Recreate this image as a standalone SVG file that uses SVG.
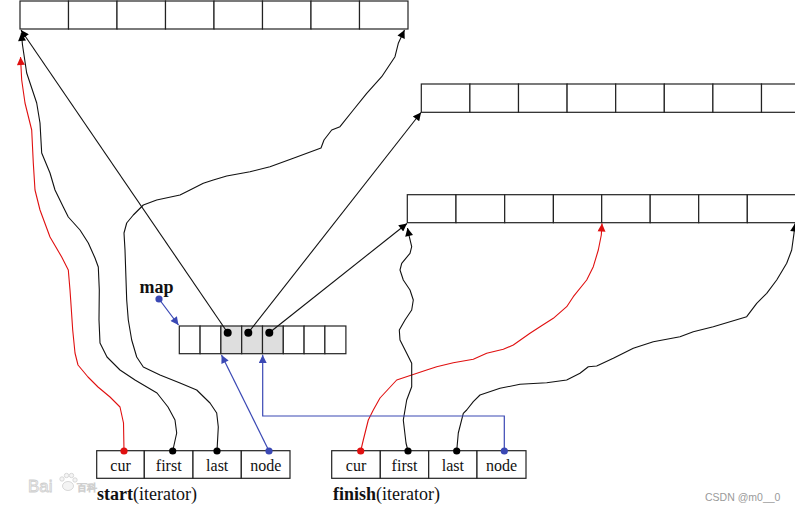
<svg xmlns="http://www.w3.org/2000/svg" width="795" height="512" viewBox="0 0 795 512">
<defs>
<style>
.cell{fill:#fff;stroke:#222;stroke-width:1.2}
.gcell{fill:#dedede;stroke:#222;stroke-width:1.2}
.lbl{font-family:"Liberation Serif","Times New Roman",serif;font-size:16px;fill:#111}
.ttl{font-family:"Liberation Serif","Times New Roman",serif;font-size:18px;fill:#111}
.blk{fill:none;stroke:#111;stroke-width:1.1;stroke-linejoin:round}
.red{fill:none;stroke:#e01010;stroke-width:1.1;stroke-linejoin:round}
.blu{fill:none;stroke:#3a48b4;stroke-width:1.2}
.wm{font-family:"Liberation Sans",Arial,sans-serif;fill:#f4f4f4;stroke:#cfcfcf;stroke-width:0.8}
</style>
<marker id="ak" viewBox="0 0 10 10" refX="10" refY="5" markerWidth="10" markerHeight="8" orient="auto" markerUnits="userSpaceOnUse"><path d="M0,0 L10,5 L0,10 z" fill="#000"/></marker>
<marker id="ar" viewBox="0 0 10 10" refX="10" refY="5" markerWidth="10" markerHeight="8" orient="auto" markerUnits="userSpaceOnUse"><path d="M0,0 L10,5 L0,10 z" fill="#e01010"/></marker>
<marker id="ab" viewBox="0 0 10 10" refX="10" refY="5" markerWidth="10" markerHeight="8" orient="auto" markerUnits="userSpaceOnUse"><path d="M0,0 L10,5 L0,10 z" fill="#3a48b4"/></marker>
</defs>
<rect width="795" height="512" fill="#fff"/>

<g id="buf1">
<rect class="cell" x="20" y="1" width="48.5" height="28"/>
<rect class="cell" x="68.5" y="1" width="48.5" height="28"/>
<rect class="cell" x="117" y="1" width="48.5" height="28"/>
<rect class="cell" x="165.5" y="1" width="48.5" height="28"/>
<rect class="cell" x="214" y="1" width="48.5" height="28"/>
<rect class="cell" x="262.5" y="1" width="48.5" height="28"/>
<rect class="cell" x="311" y="1" width="48.5" height="28"/>
<rect class="cell" x="359.5" y="1" width="48.5" height="28"/>
</g>

<g id="buf2">
<rect class="cell" x="421.3" y="84" width="48.6" height="28.3"/>
<rect class="cell" x="469.9" y="84" width="48.6" height="28.3"/>
<rect class="cell" x="518.5" y="84" width="48.6" height="28.3"/>
<rect class="cell" x="567.1" y="84" width="48.6" height="28.3"/>
<rect class="cell" x="615.7" y="84" width="48.6" height="28.3"/>
<rect class="cell" x="664.3" y="84" width="48.6" height="28.3"/>
<rect class="cell" x="712.9" y="84" width="48.6" height="28.3"/>
<rect class="cell" x="761.5" y="84" width="48.6" height="28.3"/>
</g>

<g id="buf3">
<rect class="cell" x="407.3" y="194.7" width="48.7" height="28"/>
<rect class="cell" x="456" y="194.7" width="48.7" height="28"/>
<rect class="cell" x="504.7" y="194.7" width="48.7" height="28"/>
<rect class="cell" x="553.4" y="194.7" width="48.3" height="28"/>
<rect class="cell" x="601.7" y="194.7" width="48.5" height="28"/>
<rect class="cell" x="650.2" y="194.7" width="48.5" height="28"/>
<rect class="cell" x="698.7" y="194.7" width="48.6" height="28"/>
<rect class="cell" x="747.3" y="194.7" width="49" height="28"/>
</g>

<g id="map">
<text x="139.5" y="293" class="ttl" font-weight="bold">map</text>
<rect class="cell" x="179.3" y="326" width="20.8" height="27.7"/>
<rect class="cell" x="200.1" y="326" width="20.8" height="27.7"/>
<rect class="gcell" x="220.9" y="326" width="20.8" height="27.7"/>
<rect class="gcell" x="241.7" y="326" width="20.8" height="27.7"/>
<rect class="gcell" x="262.5" y="326" width="20.8" height="27.7"/>
<rect class="cell" x="283.3" y="326" width="20.8" height="27.7"/>
<rect class="cell" x="304.1" y="326" width="20.8" height="27.7"/>
<rect class="cell" x="324.9" y="326" width="21" height="27.7"/>
</g>

<g id="start">
<rect class="cell" x="96.7" y="450.7" width="47.6" height="27.6"/>
<rect class="cell" x="144.3" y="450.7" width="48.7" height="27.6"/>
<rect class="cell" x="193" y="450.7" width="48.3" height="27.6"/>
<rect class="cell" x="241.3" y="450.7" width="48.7" height="27.6"/>
<text class="lbl" x="120.5" y="470.5" text-anchor="middle">cur</text>
<text class="lbl" x="168.7" y="470.5" text-anchor="middle">first</text>
<text class="lbl" x="217.2" y="470.5" text-anchor="middle">last</text>
<text class="lbl" x="265.7" y="470.5" text-anchor="middle">node</text>
<text class="ttl" x="97" y="499.5"><tspan font-weight="bold">start</tspan>(iterator)</text>
</g>

<g id="finish">
<rect class="cell" x="331.7" y="450.7" width="48.6" height="27.6"/>
<rect class="cell" x="380.3" y="450.7" width="48.4" height="27.6"/>
<rect class="cell" x="428.7" y="450.7" width="48.3" height="27.6"/>
<rect class="cell" x="477" y="450.7" width="49" height="27.6"/>
<text class="lbl" x="356" y="470.5" text-anchor="middle">cur</text>
<text class="lbl" x="404.5" y="470.5" text-anchor="middle">first</text>
<text class="lbl" x="452.9" y="470.5" text-anchor="middle">last</text>
<text class="lbl" x="501.5" y="470.5" text-anchor="middle">node</text>
<text class="ttl" x="333" y="499.5"><tspan font-weight="bold">finish</tspan>(iterator)</text>
</g>

<g id="connectors">
<path class="blu" d="M159,299 L178.5,325" marker-end="url(#ab)"/>
<path class="blk" d="M227.7,332.7 L21,30" marker-end="url(#ak)"/>
<path class="blk" d="M248.3,332.7 L421,112.5" marker-end="url(#ak)"/>
<path class="blk" d="M269.3,332.7 L407,223.5" marker-end="url(#ak)"/>
<path class="red" d="M124,451 L123.5,423 L120,407 L110,397 L98,387 L88,377 L78,365 L75,353 L72.7,330 L70.7,300 L70,290 L68.3,270 L61.7,257 L50,237 L40,210 L35,190 L33.3,163 L31.7,130 L25,103 L21.7,80 L20.5,57" marker-end="url(#ar)"/>
<path class="blk" d="M172.7,451 L176.7,433 L175,420 L168,407 L157,393 L135,380 L120,370 L107,357 L100,343 L99,320 L99.3,290 L98.3,267 L95,258 L88.3,243 L80,230 L68.3,217 L63.3,207 L55,190 L50,173 L41.7,153 L40,123 L36.7,103 L26.7,73 L22.5,45 L21.3,33" marker-end="url(#ak)"/>
<path class="blk" d="M217,451 L218.3,427 L216.7,413 L210,403 L196.7,390 L180,383 L160,375 L143.3,367 L136.7,357 L131.7,340 L128.3,320 L126.7,300 L125,250 L124,233 L126.7,223 L133.3,215 L143.3,205 L156.7,200 L180,195 L190,190 L203.3,183.3 L213.3,180 L226.7,176 L250,171.7 L270,166.7 L293.3,158.3 L321,148 L324,140 L331.7,130 L340,126.7 L353.3,110 L366.7,93.3 L381.7,76.7 L395,56.7 L398.3,43.3 L404.5,30" marker-end="url(#ak)"/>
<path class="blu" d="M269,451 L221.5,355" marker-end="url(#ab)"/>
<path class="red" d="M360.7,451 L363.3,440 L368.3,420 L373.3,410 L380,398 L396.7,380 L411.7,375 L426.7,370 L436.7,366.7 L453.3,362.7 L473.3,359.3 L486.7,353.3 L503.3,349.3 L513.3,345 L530,333.3 L540,326.7 L553.3,318.3 L566.7,306.7 L573.3,296.7 L586.7,280 L593.3,266.7 L598.3,250 L601.3,235 L602,223.5" marker-end="url(#ar)"/>
<path class="blk" d="M408,451 L406,443 L403.3,420 L406.7,400 L411.7,386.7 L411.7,363.3 L406.7,353.3 L400,340 L399.3,330 L405,320 L411.7,310 L413.3,300 L410,290 L403.3,280 L400,270 L401.7,263.3 L410,253.3 L411.7,246.7 L409.3,236.7 L407.5,228" marker-end="url(#ak)"/>
<path class="blk" d="M456.7,451 L458.3,433 L463.3,413.3 L466.7,410 L473.3,401.7 L480,395 L500,388.3 L520,384.3 L546.7,382.7 L566.7,380 L580,373.3 L588.3,366.7 L596.7,366 L613.3,358.3 L633.3,348.3 L653.3,341.7 L680,336.7 L693.3,331.7 L713.3,326.7 L746.7,316.7 L756.7,303.3 L766.7,293.3 L776.7,280 L786.7,263.3 L791.7,250 L794,233.3 L795,223.5" marker-end="url(#ak)"/>
<path class="blu" d="M504.3,451 L504.3,416 L262.7,416 L262.7,355" marker-end="url(#ab)"/>
<g fill="#000">
<circle cx="227.7" cy="332.7" r="4"/>
<circle cx="248.3" cy="332.7" r="4"/>
<circle cx="269.3" cy="332.7" r="4"/>
<circle cx="172.7" cy="451" r="3.6"/>
<circle cx="217" cy="451" r="3.6"/>
<circle cx="408" cy="451" r="3.6"/>
<circle cx="456.7" cy="451" r="3.6"/>
</g>
<g fill="#e01010">
<circle cx="124" cy="451" r="3.6"/>
<circle cx="360.7" cy="451" r="3.6"/>
</g>
<g fill="#3a48b4">
<circle cx="159" cy="299" r="3.6"/>
<circle cx="269" cy="451" r="3.6"/>
<circle cx="504.3" cy="451" r="3.6"/>
</g>
</g>

<g id="watermarks">
<text class="wm" x="28" y="492" font-size="17">Bai</text>
<g fill="#f4f4f4" stroke="#cfcfcf" stroke-width="0.8">
<ellipse cx="68" cy="486" rx="5.5" ry="4.5"/>
<circle cx="62" cy="479" r="2.2"/>
<circle cx="66.5" cy="475.5" r="2.2"/>
<circle cx="71.5" cy="475.5" r="2.2"/>
<circle cx="75" cy="480" r="2.2"/>
</g>
<text class="wm" x="77" y="491" font-size="9.5" font-family="'Noto Sans CJK SC',sans-serif">百科</text>
<text x="705" y="501" font-family="'Liberation Sans',Arial,sans-serif" font-size="10.5" fill="#9a9a9a">CSDN @m0__0</text>
</g>
</svg>
